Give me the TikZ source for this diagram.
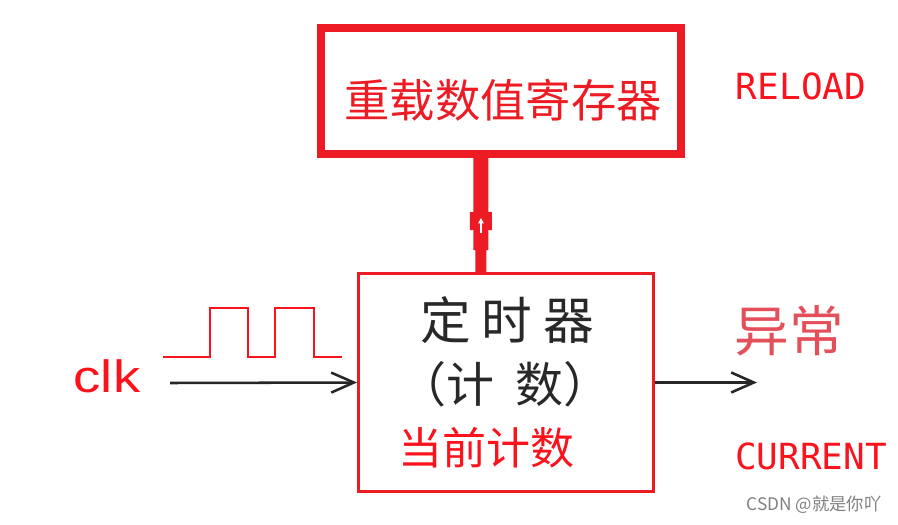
\documentclass[tikz,border=0pt]{standalone}
\usepackage{fontspec}
\setmainfont{Liberation Sans}
\newfontfamily\cjk{Noto Sans CJK SC}
\newfontfamily\tagfont{DejaVu Sans Mono}
\usetikzlibrary{calc,arrows.meta}
\definecolor{boxred}{RGB}{237,28,36}
\definecolor{textred}{RGB}{250,18,28}
\definecolor{palered}{RGB}{228,80,90}
\definecolor{darktext}{RGB}{40,40,40}

\begin{document}
\begin{tikzpicture}[x=0.75pt,y=-0.75pt,
  regbox/.style={draw=boxred,line width=6pt,minimum width=270pt,minimum height=94.5pt,inner sep=0pt},
  timerbox/.style={draw=boxred,line width=2.25pt,minimum width=221.25pt,minimum height=163.5pt,inner sep=0pt},
  sig/.style={draw=black!85,line width=1.9pt,-{Straight Barb[length=17pt,width=15pt,line width=1.9pt]}},
  tag/.style={font=\tagfont\fontsize{27pt}{27pt}\selectfont,text=textred,inner sep=0pt}]
\useasboundingbox (0,0) rectangle (898,524);

% reload register
\node[regbox] (reload) at (501,91) {};
\node[font=\cjk\fontsize{34pt}{34pt}\selectfont,text=boxred,inner sep=0pt] (reloadname) at (503,100) {重载数值寄存器};
\node[tag] (reloadtag) at (801,86) {RELOAD};

% timer
\node[timerbox] (timer) at (506,382.5) {};
\node[font=\cjk\fontsize{38pt}{38pt}\selectfont,text=darktext,inner sep=0pt] (timername) at (507,320) {定\hspace{8pt}时\hspace{8pt}器};
\node[font=\cjk\fontsize{36pt}{36pt}\selectfont,text=darktext,inner sep=0pt] (timercount) at (505,384) {（计\hspace{16pt}数）};
\node[font=\cjk\fontsize{33pt}{33pt}\selectfont,text=textred,inner sep=0pt] (current) at (486,448) {当前计数};

% reload link
\coordinate (lnkB) at ($(timer.north west)!0.416!(timer.north east)$);
\coordinate (lnkT) at (reload.south -| lnkB);
\fill[boxred] ($(lnkB)+(-5.5,0)$) -- ++(0,-22) -- ++(-2,0) -- ++(0,-20) -- ++(-3.5,0) -- ++(0,-18) -- ++(3.5,0)
  |- ($(lnkT)+(7.5,0)$) -- ($(lnkB)+(7.5,-60)$) -- ++(3.5,0) -- ++(0,18) -- ++(-3.5,0) -- ++(0,20) -- ++(-2,0) -- ++(0,22) -- cycle;
\draw[white,line width=1.2pt,-{Triangle[length=4pt,width=4pt]}] ($(lnkB)+(0,-39)$) -- ($(lnkB)+(0,-54)$);

% clock input
\node[font=\fontsize{34pt}{34pt}\selectfont,text=textred,inner sep=0pt] (clk) at (107,376) {\scalebox{1.2}[1]{clk}};
\draw[textred,line width=2pt] (163,357) -| (210,308) -| (248,357) -| (275,308) -| (314,357) -- (342,357);
\coordinate (clkin) at (170,383);
\draw[sig] (clkin) -- (timer.west);

% output
\coordinate (outend) at (757,382.5);
\draw[sig] (timer.east) -- (outend);
\node[font=\cjk\fontsize{41pt}{41pt}\selectfont,text=palered,inner sep=0pt] (fault) at (789,331) {异常};
\node[tag] (currenttag) at (811,456) {CURRENT};

\node[font=\cjk\fontsize{13pt}{13pt}\selectfont,text=black!50,inner sep=0pt] (mark) at (814,505) {CSDN @就是你吖};
\end{tikzpicture}
\end{document}
